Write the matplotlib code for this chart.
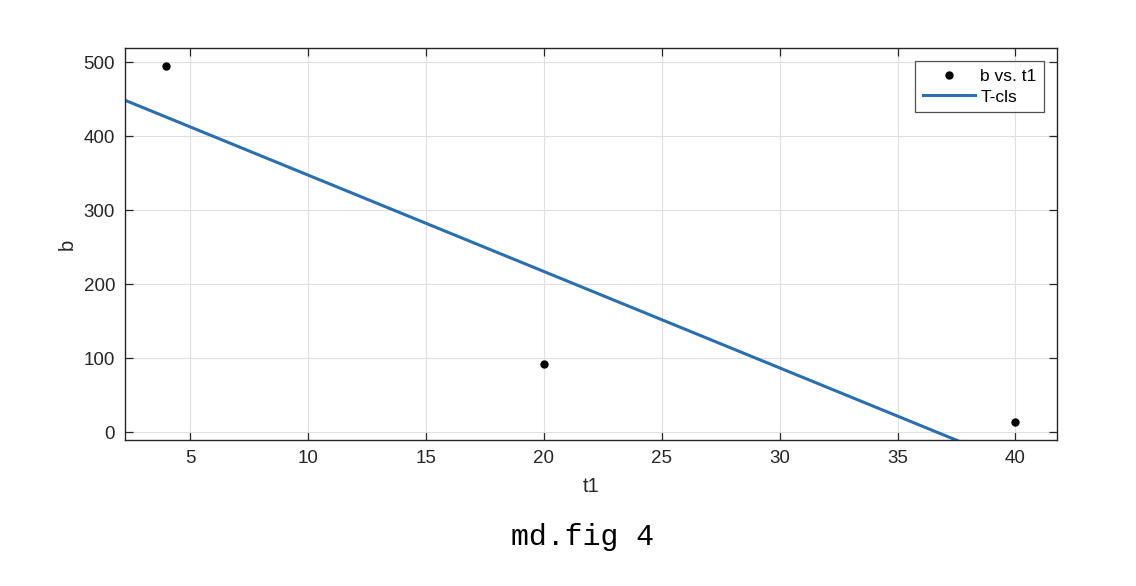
import numpy as np
import matplotlib
matplotlib.use('Agg')
import matplotlib.pyplot as plt

# data points (b vs. t1)
t1 = [4, 20, 40]
b = [495, 93, 14]

# fitted line T-cls: b = intercept + slope * t1
intercept = 478.0
slope = -13.03

xlim = (2.23, 41.78)
ylim = (-10.8, 519)
xticks = [5, 10, 15, 20, 25, 30, 35, 40]
yticks = [0, 100, 200, 300, 400, 500]

plt.rcParams['font.family'] = ['Liberation Sans', 'DejaVu Sans']
fig = plt.figure(figsize=(11.36, 5.86), dpi=100)
ax = fig.add_axes([0.1098, 0.2486, 0.821, 0.669])

xx = np.linspace(xlim[0], xlim[1], 200)
ax.plot(t1, b, '.', color='black', markersize=10, label='b vs. t1')
ax.plot(xx, intercept + slope * xx, color='#2a6fb0', linewidth=2.2, label='T-cls')

ax.set_xlim(xlim)
ax.set_ylim(ylim)
ax.set_xticks(xticks)
ax.set_yticks(yticks)
ax.grid(True, color='#e0e0e0', linewidth=0.8)
ax.set_axisbelow(True)
for s in ax.spines.values():
    s.set_color('#262626')
    s.set_linewidth(1.0)
ax.tick_params(direction='in', length=6, width=0.9, colors='#262626',
               labelsize=13.5, top=True, right=True, pad=7)
ax.set_xlabel('t1', fontsize=14.5, color='#262626', labelpad=7)
ax.set_ylabel('b', fontsize=14.5, color='#262626', labelpad=5)

leg = ax.legend(loc='upper right', fontsize=12.5, frameon=True, fancybox=False,
                edgecolor='#262626', borderpad=0.45, handlelength=3.0,
                handletextpad=0.3, labelspacing=0.3, borderaxespad=0,
                bbox_to_anchor=(0.986, 0.967))
leg.get_frame().set_linewidth(0.9)

fig.text(0.513, 0.084, 'md.fig 4', fontsize=21.5, family='Liberation Mono',
         ha='center', va='center', color='black')

fig.savefig('out.png', dpi=100)
